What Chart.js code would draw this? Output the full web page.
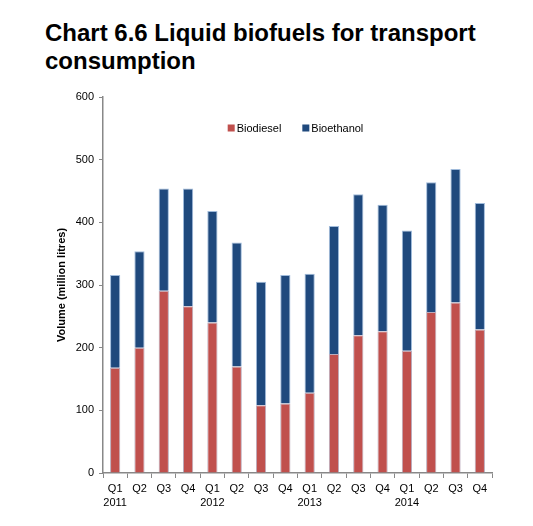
<!DOCTYPE html>
<html lang="en">
<head>
    <meta charset="UTF-8">
    <title>Liquid biofuels for transport consumption</title>
    <style>
        body {
            margin: 0;
            background: #fff;
            font-family: "Liberation Sans", Arial, sans-serif;
        }
        .wrap {
            position: relative;
            width: 533px;
            height: 526px;
        }
        h2 {
            position: absolute;
            left: 45px;
            top: 19px;
            margin: 0;
            font-size: 24px;
            line-height: 28px;
            font-weight: bold;
            color: #000;
        }
        canvas {
            position: absolute;
            left: 0;
            top: 0;
        }
    </style>
</head>
<body>
    <div class="wrap">
        <h2>Chart 6.6 Liquid biofuels for transport<br>consumption</h2>
        <canvas id="biofuelChart" width="533" height="526"></canvas>
    </div>

    <script src="https://cdn.jsdelivr.net/npm/chart.js"></script>

    <script>
        // Quarters, with the year under each Q1
        const quarters = [
            ['Q1', '2011'], 'Q2', 'Q3', 'Q4',
            ['Q1', '2012'], 'Q2', 'Q3', 'Q4',
            ['Q1', '2013'], 'Q2', 'Q3', 'Q4',
            ['Q1', '2014'], 'Q2', 'Q3', 'Q4'
        ];

        // Volumes in million litres
        const biodiesel  = [168, 200, 291, 266, 240, 170, 108, 111, 128, 190, 220, 226, 195, 257, 272, 229];
        const bioethanol = [148, 154, 163, 188, 178, 198, 197, 205, 190, 204, 225, 202, 192, 207, 213, 202];

        const yTicks = [0, 100, 200, 300, 400, 500, 600];

        const fontFamily = '"Liberation Sans", Arial, sans-serif';

        // Legend drawn inside the plot, near its top, as in the original
        const insideLegend = {
            id: 'insideLegend',
            afterDraw(chart) {
                const ctx = chart.ctx;
                const area = chart.chartArea;
                const sets = chart.data.datasets;
                ctx.save();
                ctx.font = '11px ' + fontFamily;
                ctx.textBaseline = 'middle';
                const box = 7, gap = 2, space = 21;
                const widths = sets.map(d => box + gap + ctx.measureText(d.label).width);
                const total = widths.reduce((a, b) => a + b, 0) + space * (sets.length - 1);
                let x = (area.left + area.right) / 2 - total / 2 - 2;
                const y = area.top + 31;
                sets.forEach((d, i) => {
                    ctx.fillStyle = d.backgroundColor;
                    ctx.fillRect(x, y - box / 2, box, box);
                    ctx.fillStyle = '#000';
                    ctx.fillText(d.label, x + box + gap, y + 0.5);
                    x += widths[i] + space;
                });
                ctx.restore();
            }
        };

        new Chart(document.getElementById('biofuelChart').getContext('2d'), {
            type: 'bar',
            data: {
                labels: quarters,
                datasets: [{
                    label: 'Biodiesel',
                    data: biodiesel,
                    backgroundColor: '#C0504D',
                    borderColor: 'rgba(170,150,170,0.8)',
                    borderWidth: 1,
                    categoryPercentage: 1,
                    barPercentage: 0.42
                }, {
                    label: 'Bioethanol',
                    data: bioethanol,
                    backgroundColor: '#1F497D',
                    borderColor: 'rgba(150,180,215,0.9)',
                    borderWidth: 1,
                    categoryPercentage: 1,
                    barPercentage: 0.42
                }]
            },
            options: {
                responsive: false,
                animation: false,
                layout: {
                    padding: { left: 51, right: 41, top: 97, bottom: 0 }
                },
                plugins: {
                    tooltip: { enabled: false },
                    legend: { display: false }
                },
                scales: {
                    x: {
                        stacked: true,
                        afterFit: function (axis) { axis.height = 53; },
                        border: { color: '#888', width: 1.5 },
                        grid: {
                            offset: true,
                            drawOnChartArea: false,
                            tickLength: 5,
                            color: '#888'
                        },
                        ticks: {
                            color: '#000',
                            font: { family: fontFamily, size: 11, lineHeight: 1.3 },
                            maxRotation: 0,
                            autoSkip: false,
                            padding: 4
                        }
                    },
                    y: {
                        stacked: true,
                        min: 0,
                        max: 600,
                        afterFit: function (axis) { axis.width = 52; },
                        afterBuildTicks: function (axis) {
                            axis.ticks = yTicks.map(v => ({ value: v }));
                        },
                        border: { color: '#888', width: 1.5 },
                        grid: {
                            drawOnChartArea: false,
                            tickLength: 4,
                            color: '#888'
                        },
                        ticks: {
                            color: '#000',
                            font: { family: fontFamily, size: 11 },
                            padding: 5
                        },
                        title: {
                            display: true,
                            text: 'Volume (million litres)',
                            color: '#000',
                            font: { family: fontFamily, size: 11, weight: 'bold' },
                            padding: { top: 4, bottom: 4 }
                        }
                    }
                }
            },
            plugins: [insideLegend]
        });
    </script>
</body>
</html>
